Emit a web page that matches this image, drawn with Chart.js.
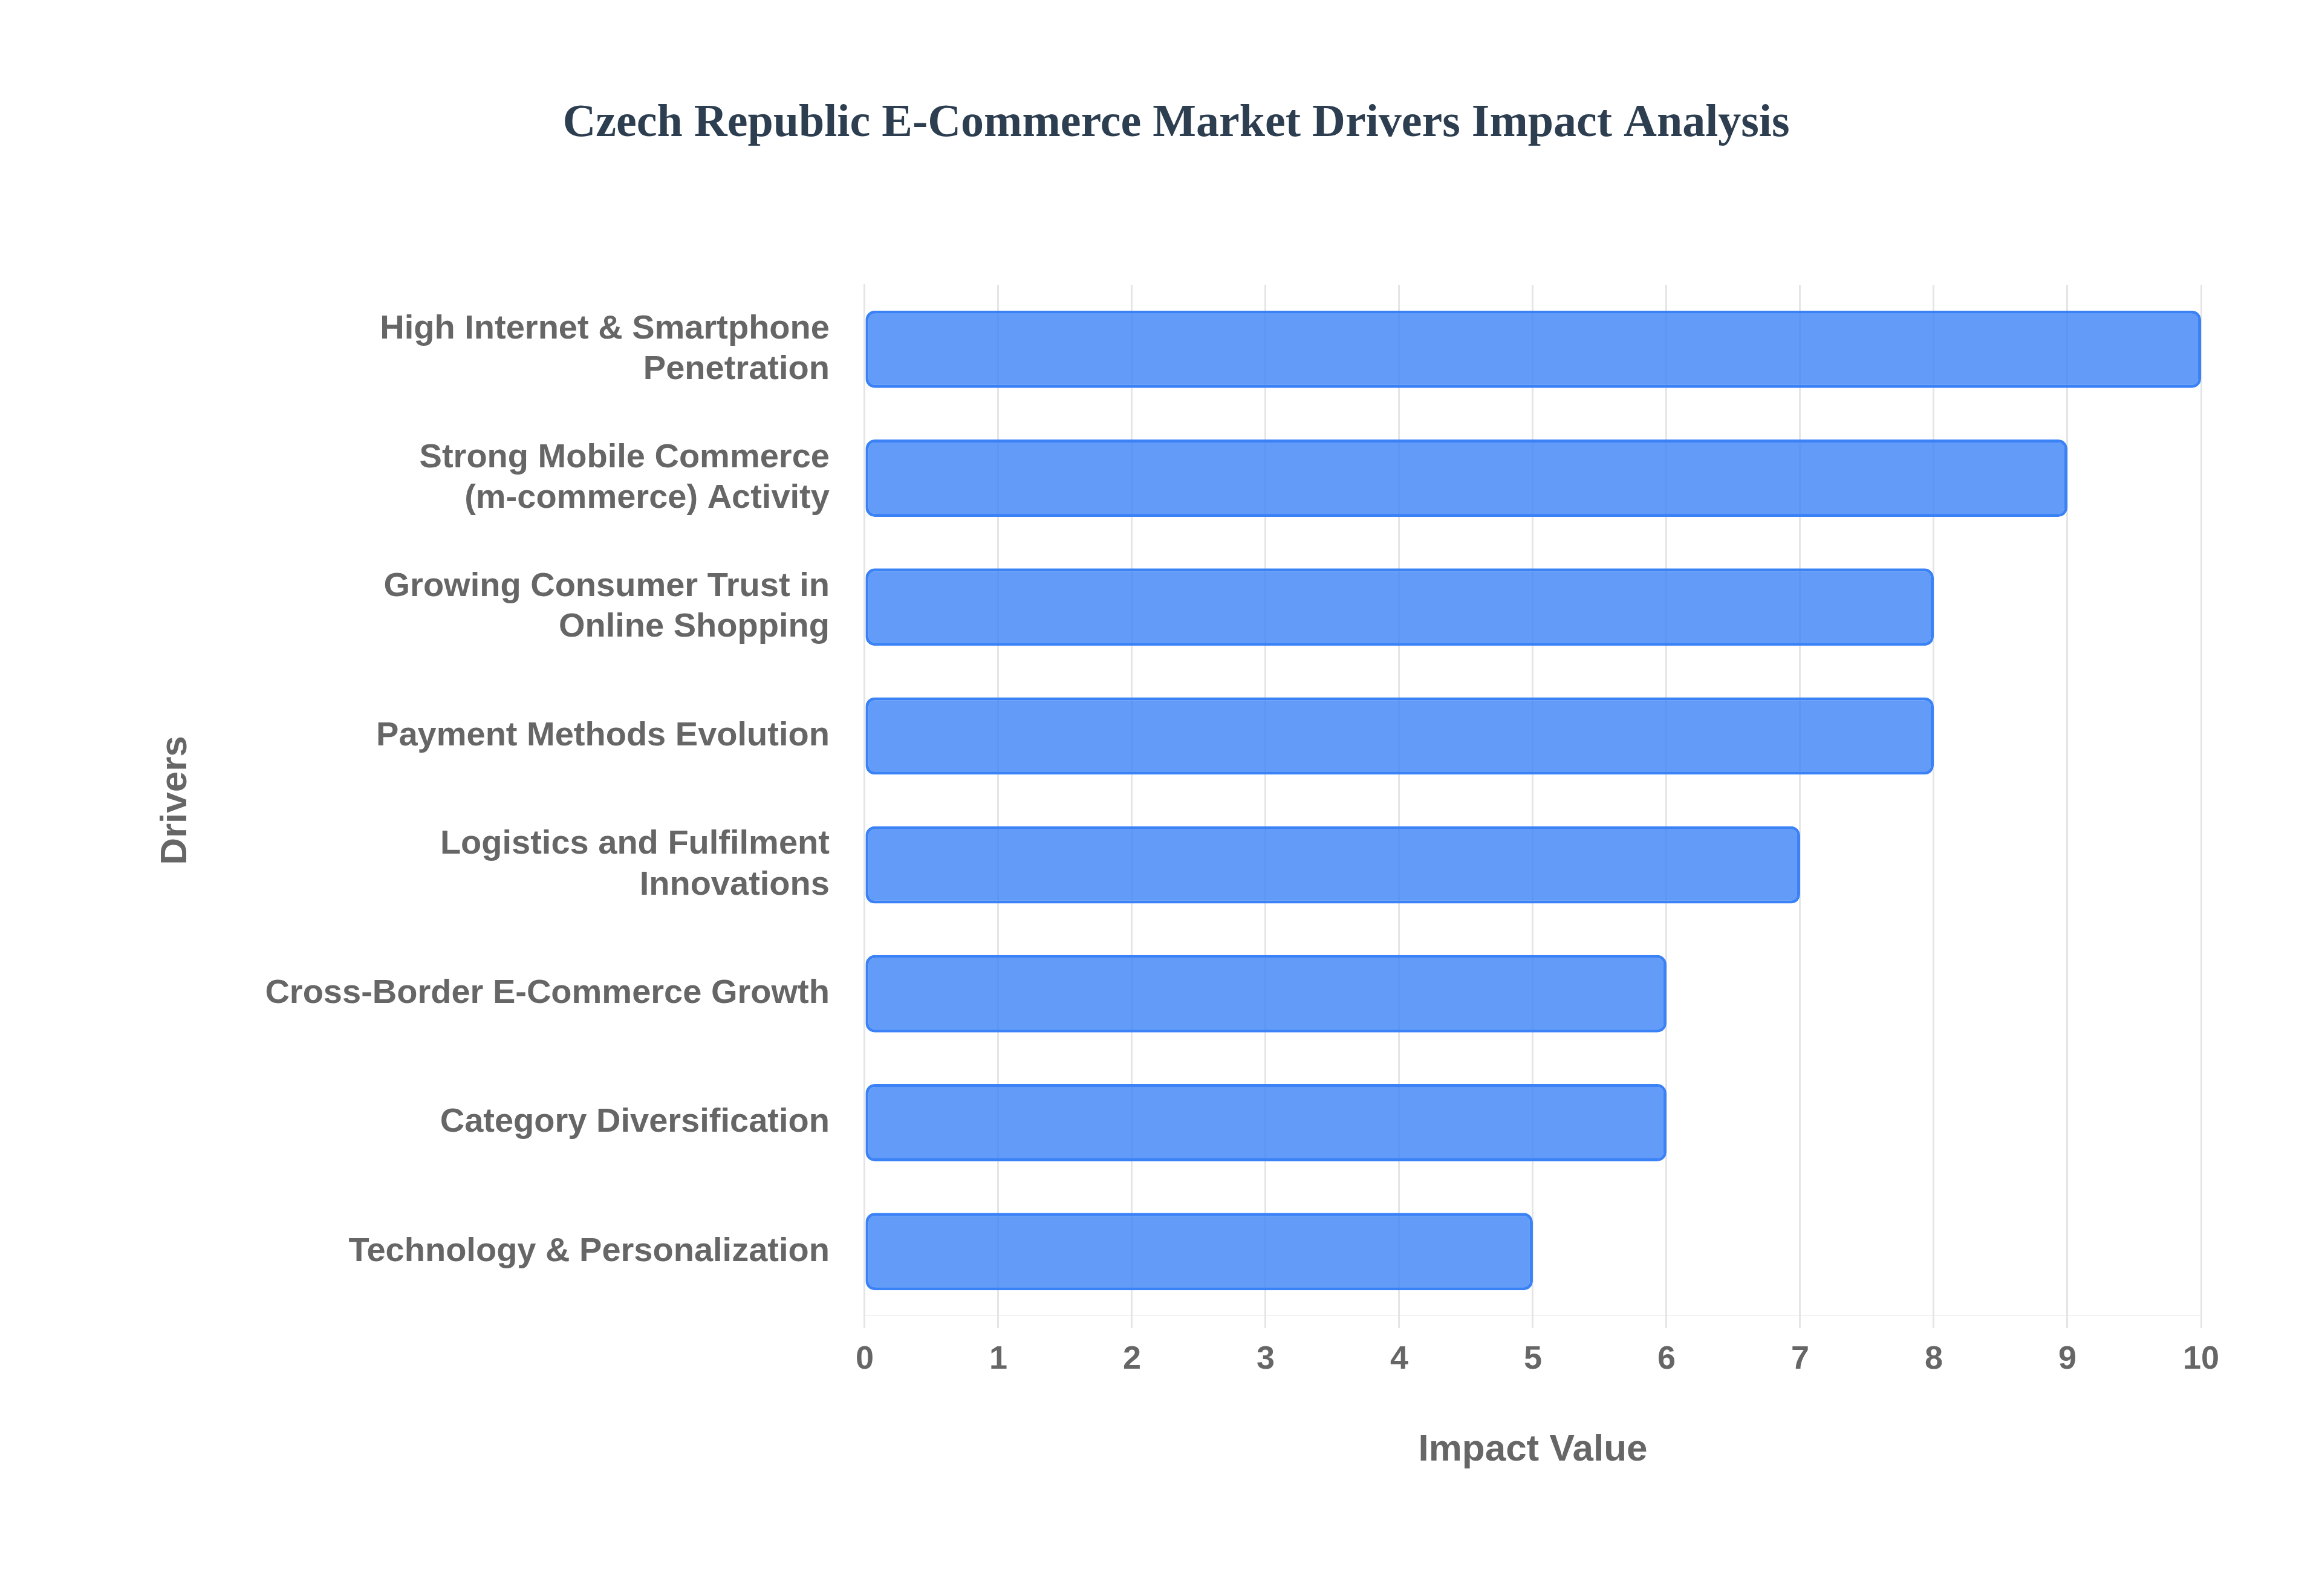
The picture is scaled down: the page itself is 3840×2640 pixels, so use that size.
<!DOCTYPE html>
<html lang="en">
<head>
  <meta charset="UTF-8" />
  <title>Czech Republic E-Commerce Market Drivers</title>
  <script src="https://cdn.jsdelivr.net/npm/chart.js"></script>
  <style>
    html, body { margin: 0; padding: 0; background: #fff; }
    #wrap { width: 3840px; height: 2640px; }
  </style>
</head>
<body>
  <div id="wrap"><canvas id="chart" width="3840" height="2640"></canvas></div>
  <script>
    const drivers = [
      ["High Internet & Smartphone", "Penetration"],
      ["Strong Mobile Commerce", "(m-commerce) Activity"],
      ["Growing Consumer Trust in", "Online Shopping"],
      "Payment Methods Evolution",
      ["Logistics and Fulfilment", "Innovations"],
      "Cross-Border E-Commerce Growth",
      "Category Diversification",
      "Technology & Personalization"
    ];
    const impactValues = [10, 9, 8, 8, 7, 6, 6, 5];

    new Chart(document.getElementById("chart"), {
      type: "bar",
      data: {
        labels: drivers,
        datasets: [{
          label: "Impact Value",
          data: impactValues,
          backgroundColor: "rgba(59,130,246,0.8)",
          borderColor: "#3b82f6",
          borderWidth: 5,
          borderRadius: 15,
          borderSkipped: false,
          barPercentage: 0.6,
          categoryPercentage: 1
        }]
      },
      options: {
        indexAxis: "y",
        responsive: false,
        animation: false,
        devicePixelRatio: 1,
        layout: { padding: { left: 250, right: 200, top: 160, bottom: 200 } },
        plugins: {
          legend: { display: false },
          title: {
            display: true,
            text: "Czech Republic E-Commerce Market Drivers Impact Analysis",
            color: "#2c3e50",
            font: { family: "Liberation Serif", size: 76, weight: "bold" },
            padding: { bottom: 220 }
          }
        },
        scales: {
          x: {
            min: 0, max: 10,
            ticks: { stepSize: 1, color: "#666", padding: 20, font: { family: "Liberation Sans", size: 54, weight: "bold" } },
            grid: { color: "#e5e5e5", lineWidth: 3, tickLength: 20 },
            title: { display: true, text: "Impact Value", color: "#666", padding: { top: 60 }, font: { family: "Liberation Sans", size: 62, weight: "bold" } }
          },
          y: {
            ticks: { color: "#666", padding: 50, font: { family: "Liberation Sans", size: 56, weight: "bold" }, lineHeight: 1.4 },
            grid: { display: false },
            border: { color: "#e5e5e5", width: 3 },
            title: { display: true, text: "Drivers", color: "#666", padding: { bottom: 60 }, font: { family: "Liberation Sans", size: 62, weight: "bold" } }
          }
        }
      }
    });
  </script>
</body>
</html>
